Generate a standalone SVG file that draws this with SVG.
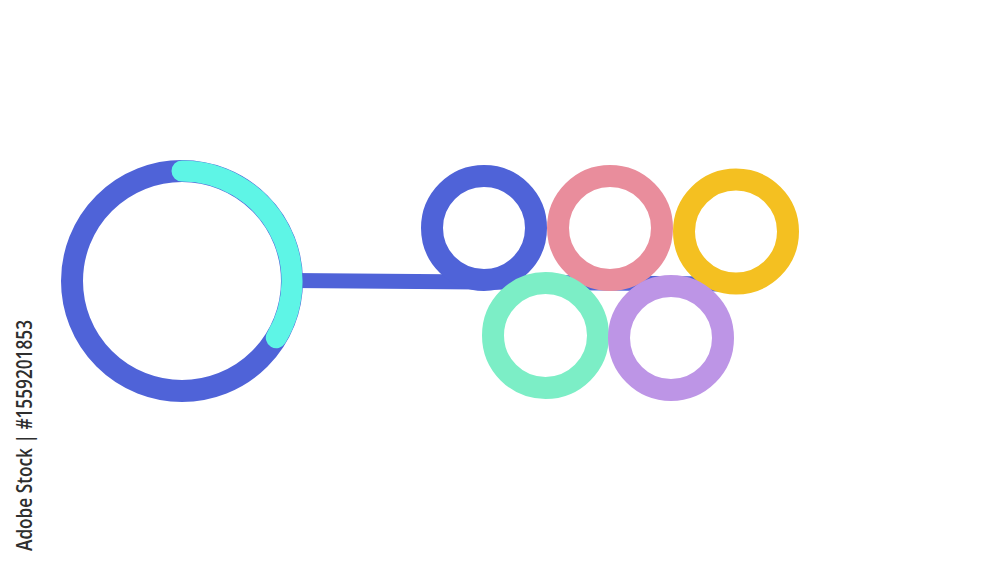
<svg xmlns="http://www.w3.org/2000/svg" width="1000" height="562" viewBox="0 0 1000 562">
  <style>
    .ring { fill: none; stroke-width: 22; }
    .wm { font-family: "Open Sans", "Liberation Sans", sans-serif; font-weight: 600; font-size: 21px; fill: #2e2e2e; }
  </style>
  <rect width="1000" height="562" fill="#ffffff"/>
  <g id="connectors">
    <path d="M 292 280.5 L 720 284" stroke="#4F63D8" stroke-width="15" fill="none"/>
  </g>
  <g id="main-ring">
    <circle class="ring" cx="182" cy="281" r="110" stroke="#4F63D8" stroke-width="21"/>
    <path d="M 182 171 A 110 110 0 0 1 276.3 337.7" fill="none" stroke="#5EF5E6" stroke-width="21" stroke-linecap="round"/>
  </g>
  <g id="ring-blue">
    <circle class="ring" cx="484" cy="228" r="52" stroke="#4F63D8"/>
  </g>
  <g id="ring-pink">
    <circle class="ring" cx="610" cy="228" r="52" stroke="#E98D9C"/>
  </g>
  <g id="ring-yellow">
    <circle class="ring" cx="736" cy="231.5" r="52" stroke="#F4C021"/>
  </g>
  <g id="ring-green">
    <circle class="ring" cx="545.5" cy="335.5" r="52.5" stroke="#7CEEC6"/>
  </g>
  <g id="ring-purple">
    <circle class="ring" cx="671" cy="338" r="52" stroke="#BD95E6"/>
  </g>
  <text class="wm" x="32" y="551" transform="rotate(-90 32 551)" textLength="231" lengthAdjust="spacingAndGlyphs">Adobe Stock | #1559201853</text>
</svg>
